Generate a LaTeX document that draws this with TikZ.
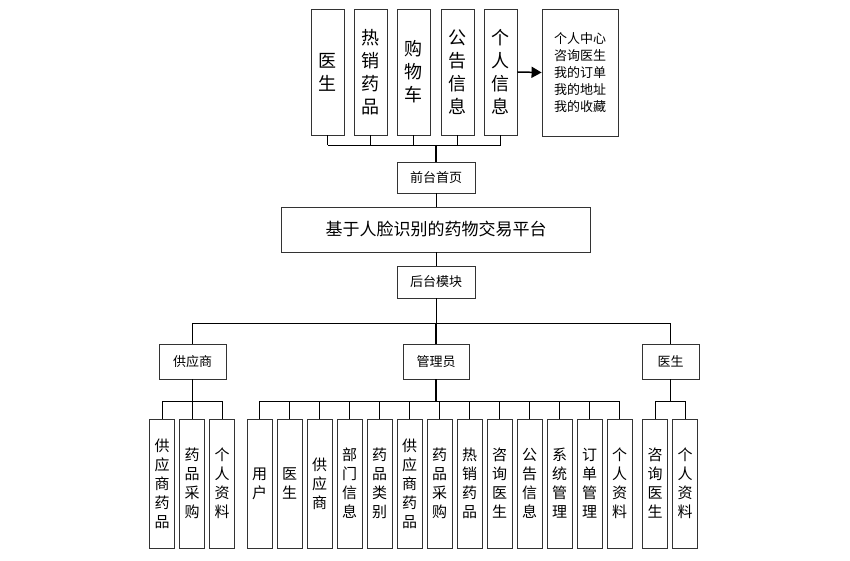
\documentclass[tikz,border=0pt]{standalone}
\usepackage{fontspec}
\setmainfont{Noto Sans CJK SC}
\usetikzlibrary{arrows.meta}
\begin{document}
\begin{tikzpicture}[x=1pt,y=-1pt,
 bx/.style={draw=black!80,line width=0.9pt,fill=white,inner sep=0pt},
 ln/.style={draw=black,line width=0.9pt},
 tk/.style={draw=black,line width=1.5pt}]
\useasboundingbox (0,0) rectangle (850,561);
% top boxes
\foreach \n/\x/\t in {a/311/{医\\生},b/354/{热\\销\\药\\品},c/397/{购\\物\\车},d/441/{公\\告\\信\\息},e/484/{个\\人\\信\\息}}{
 \node[bx,minimum width=33pt,minimum height=126pt,font=\fontsize{18}{23}\selectfont,align=center] (\n) at (\x+16.5,72) {\t};
 \draw[ln] (\n.south) -- (\x+16.5,145);
}
\draw[ln] (327.5,145) -- (500.5,145);
\node[bx,minimum width=76pt,minimum height=127pt,font=\fontsize{13}{17}\selectfont,align=left] (r) at (580,72.5) {个人中心\\咨询医生\\我的订单\\我的地址\\我的收藏};
\draw[tk,-{Triangle[length=10pt,width=11pt]}] (e.east) -- (r.west);
\node[bx,minimum width=78pt,minimum height=31pt,font=\fontsize{13}{16}\selectfont] (q) at (436,177.5) {前台首页};
\draw[tk] (436,145) -- (q.north);
\node[bx,minimum width=309pt,minimum height=45pt,font=\fontsize{17}{20}\selectfont] (m) at (436,229.5) {基于人脸识别的药物交易平台};
\draw[ln] (q.south) -- (m.north);
\node[bx,minimum width=78pt,minimum height=32pt,font=\fontsize{13}{16}\selectfont] (h) at (436,282) {后台模块};
\draw[ln] (m.south) -- (h.north);
\draw[ln] (h.south) -- (436,323);
\draw[ln] (193,323) -- (670,323);
\node[bx,minimum width=67pt,minimum height=35pt,font=\fontsize{13}{16}\selectfont] (g1) at (192.5,361.5) {供应商};
\node[bx,minimum width=66pt,minimum height=35pt,font=\fontsize{13}{16}\selectfont] (g2) at (436,361.5) {管理员};
\node[bx,minimum width=57pt,minimum height=35pt,font=\fontsize{13}{16}\selectfont] (g3) at (670.5,361.5) {医生};
\draw[ln] (192.5,323) -- (g1.north);
\draw[ln] (670.5,323) -- (g3.north);
\draw[tk] (436,323) -- (g2.north);
\draw[tk] (g2.south) -- (436,401);
\draw[tk] (g1.south) -- (192.5,401);
\draw[tk] (g3.south) -- (670.5,401);
\tikzset{sb/.style={bx,minimum width=25pt,minimum height=129pt,font=\fontsize{15}{19}\selectfont,align=center}}
\foreach \i/\t in {0/{供\\应\\商\\药\\品},1/{药\\品\\采\\购},2/{个\\人\\资\\料}}{
 \node[sb] (s\i) at (162+30*\i,483.5) {\t};
 \draw[ln] (s\i.north) -- (162+30*\i,401);}
\draw[ln] (162,401) -- (222,401);
\foreach \i/\t in {0/{用\\户},1/{医\\生},2/{供\\应\\商},3/{部\\门\\信\\息},4/{药\\品\\类\\别},5/{供\\应\\商\\药\\品},6/{药\\品\\采\\购},7/{热\\销\\药\\品},8/{咨\\询\\医\\生},9/{公\\告\\信\\息},10/{系\\统\\管\\理},11/{订\\单\\管\\理},12/{个\\人\\资\\料}}{
 \node[sb] (t\i) at (259.5+30*\i,483.5) {\t};
 \draw[ln] (t\i.north) -- (259.5+30*\i,401);}
\draw[ln] (259.5,401) -- (619.5,401);
\foreach \i/\t in {0/{咨\\询\\医\\生},1/{个\\人\\资\\料}}{
 \node[sb] (u\i) at (655+30*\i,483.5) {\t};
 \draw[ln] (u\i.north) -- (655+30*\i,401);}
\draw[ln] (655,401) -- (685,401);
\end{tikzpicture}
\end{document}
